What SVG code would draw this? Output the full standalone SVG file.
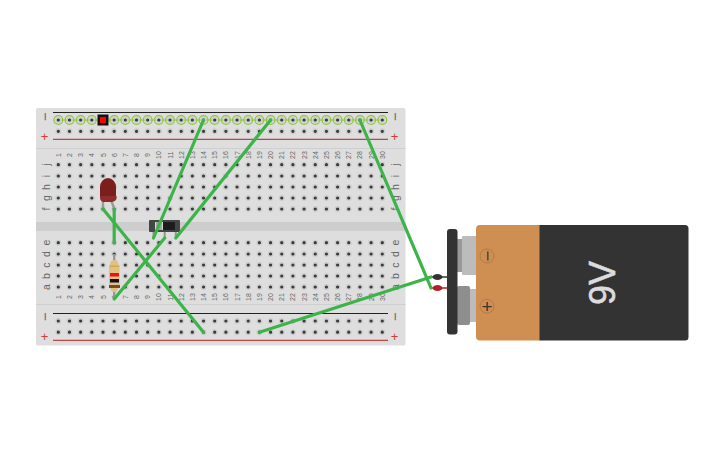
<svg xmlns="http://www.w3.org/2000/svg" width="725" height="453" viewBox="0 0 725 453">
<style>
text{font-family:"Liberation Sans",Arial,sans-serif}
.halo{stroke:#cdcdcd;stroke-width:6;stroke-linecap:round;stroke-dasharray:0 11.172;fill:none}
.hole{stroke:#3a3a3a;stroke-width:3.2;stroke-linecap:round;stroke-dasharray:0 11.172;fill:none}
.num{font-size:7px;fill:#666;text-anchor:middle;dominant-baseline:central}
.let{font-size:10.5px;fill:#666;text-anchor:middle;dominant-baseline:central}
.minus{font-size:15px;fill:#666;text-anchor:middle;dominant-baseline:central}
.plus{font-size:13px;fill:#d43a3a;text-anchor:middle;dominant-baseline:central}
.ring{fill:none;stroke:#8cc63f;stroke-width:1.2}
.wire{stroke:#3cb44a;stroke-width:3.2;stroke-linecap:round;fill:none}
.pin{stroke:#8a9a8a;stroke-width:2;fill:none}
</style>
<defs>
<g id="r"><path class="halo" d="M58.3 0H383"/><path class="hole" d="M58.3 0H383"/></g>
<g id="rn"><text class="num" y="58.3">1</text><text class="num" y="69.5">2</text><text class="num" y="80.6">3</text><text class="num" y="91.8">4</text><text class="num" y="103">5</text><text class="num" y="114.2">6</text><text class="num" y="125.3">7</text><text class="num" y="136.5">8</text><text class="num" y="147.7">9</text><text class="num" y="158.8">10</text><text class="num" y="170">11</text><text class="num" y="181.2">12</text><text class="num" y="192.4">13</text><text class="num" y="203.5">14</text><text class="num" y="214.7">15</text><text class="num" y="225.9">16</text><text class="num" y="237">17</text><text class="num" y="248.2">18</text><text class="num" y="259.4">19</text><text class="num" y="270.6">20</text><text class="num" y="281.7">21</text><text class="num" y="292.9">22</text><text class="num" y="304.1">23</text><text class="num" y="315.3">24</text><text class="num" y="326.4">25</text><text class="num" y="337.6">26</text><text class="num" y="348.8">27</text><text class="num" y="359.9">28</text><text class="num" y="371.1">29</text><text class="num" y="382.3">30</text></g>
<g id="ring"><circle class="ring" r="4.4"/></g>
</defs>
<g id="breadboard">
<rect x="36" y="108" width="369.5" height="237.5" rx="2" fill="#dedede"/>
<rect x="36" y="148" width="369.5" height="1" fill="#cfcfcf"/>
<rect x="36" y="304" width="369.5" height="1" fill="#cfcfcf"/>
<rect x="36" y="222" width="369.5" height="9" fill="#cdcdcd"/>
<path d="M53 112.5H388M53 313.5H388" stroke="#222" stroke-width="1"/>
<path d="M53 139.3H388M53 340.3H388" stroke="#b32020" stroke-width="1"/>
<path d="M58.3 120H382.3" stroke="#8cc63f" stroke-width="1.2"/>
<g id="rail-rings"><use href="#ring" x="58.3" y="120"/><use href="#ring" x="69.5" y="120"/><use href="#ring" x="80.6" y="120"/><use href="#ring" x="91.8" y="120"/><use href="#ring" x="114.2" y="120"/><use href="#ring" x="125.3" y="120"/><use href="#ring" x="136.5" y="120"/><use href="#ring" x="147.7" y="120"/><use href="#ring" x="158.8" y="120"/><use href="#ring" x="170" y="120"/><use href="#ring" x="181.2" y="120"/><use href="#ring" x="192.4" y="120"/><use href="#ring" x="203.5" y="120"/><use href="#ring" x="214.7" y="120"/><use href="#ring" x="225.9" y="120"/><use href="#ring" x="237" y="120"/><use href="#ring" x="248.2" y="120"/><use href="#ring" x="259.4" y="120"/><use href="#ring" x="270.6" y="120"/><use href="#ring" x="281.7" y="120"/><use href="#ring" x="292.9" y="120"/><use href="#ring" x="304.1" y="120"/><use href="#ring" x="315.3" y="120"/><use href="#ring" x="326.4" y="120"/><use href="#ring" x="337.6" y="120"/><use href="#ring" x="348.8" y="120"/><use href="#ring" x="359.9" y="120"/><use href="#ring" x="371.1" y="120"/><use href="#ring" x="382.3" y="120"/></g>
<use href="#r" y="120"/><use href="#r" y="131.3"/>
<use href="#r" y="164.7"/><use href="#r" y="176"/><use href="#r" y="187"/><use href="#r" y="198"/><use href="#r" y="209"/>
<use href="#r" y="242.7"/><use href="#r" y="254"/><use href="#r" y="265"/><use href="#r" y="276"/><use href="#r" y="287"/>
<use href="#r" y="321"/><use href="#r" y="332.2"/>
<rect x="97.5" y="114.5" width="11" height="11" fill="#111"/><rect x="100" y="117" width="6" height="6" fill="#f00"/>
<g transform="rotate(-90)">
<use href="#rn" x="-155"/><use href="#rn" x="-297"/>
<g transform="translate(0,46)"><text class="let" x="-164.7">j</text><text class="let" x="-176">i</text><text class="let" x="-187">h</text><text class="let" x="-198">g</text><text class="let" x="-209">f</text><text class="let" x="-242.7">e</text><text class="let" x="-254">d</text><text class="let" x="-265">c</text><text class="let" x="-276">b</text><text class="let" x="-287">a</text></g>
<g transform="translate(0,395)"><text class="let" x="-164.7">j</text><text class="let" x="-176">i</text><text class="let" x="-187">h</text><text class="let" x="-198">g</text><text class="let" x="-209">f</text><text class="let" x="-242.7">e</text><text class="let" x="-254">d</text><text class="let" x="-265">c</text><text class="let" x="-276">b</text><text class="let" x="-287">a</text></g>
<text class="minus" x="-116.500" y="44.500">−</text><text class="minus" x="-116.500" y="394.500">−</text><text class="minus" x="-316.500" y="44.500">−</text><text class="minus" x="-316.500" y="394.500">−</text>
</g>
<text class="plus" x="44.500" y="136">+</text><text class="plus" x="394.500" y="136">+</text><text class="plus" x="44.500" y="336">+</text><text class="plus" x="394.500" y="336">+</text>
</g>
<g id="led">
<path d="M103 200V208M111 200L114 208" stroke="#9a9a9a" stroke-width="2.400" fill="none"/>
<path d="M100 197V187a8 9 0 0 1 16 0V197Z" fill="#7b1e1e"/>
<path d="M100 196H116.500Q117.500 201 112 202H103Q99.500 201 100 196Z" fill="#8c2c2c"/>
</g>
<g id="resistor">
<path d="M114.200 254V299" stroke="#9a9a9a" stroke-width="2.400"/>
<path d="M111 261Q114.200 259 117.500 261L119.500 267V285L117 291Q114.200 293 111.500 291L109 285V267Z" fill="#e2bf85"/>
<rect x="109.500" y="265.500" width="10" height="1.500" fill="#c9b04a"/>
<rect x="110" y="273" width="9" height="3.500" fill="#f01010"/>
<rect x="110" y="279" width="9" height="3.500" fill="#111"/>
<rect x="109" y="285" width="11" height="3" fill="#7a4a1c"/>
</g>
<g id="switch">
<path class="pin" d="M153.500 232V238M164.700 232V238M175.800 232V238"/>
<rect x="149" y="220" width="31" height="12" rx="1" fill="#454545"/>
<rect x="155" y="222" width="20" height="8" fill="#1c1c1c"/>
<rect x="155" y="222" width="8" height="8" fill="#d8d8d8"/>
<path d="M157 222V230M159 222V230M161 222V230" stroke="#555" stroke-width="0.800"/>
</g>
<g id="battery">
<rect x="457" y="239" width="6" height="33" fill="#999"/>
<rect x="462" y="236" width="15" height="39" rx="1" fill="#bcbcbc"/>
<rect x="468" y="289" width="9" height="33" fill="#bcbcbc"/>
<rect x="457" y="286" width="13" height="39" rx="2" fill="#8e8e8e"/>
<path d="M431 277H447" stroke="#333" stroke-width="1.500"/>
<path d="M431 288H447" stroke="#b32020" stroke-width="1.500"/>
<ellipse cx="437.500" cy="277" rx="5" ry="3" fill="#333"/>
<ellipse cx="437.500" cy="288" rx="5" ry="3" fill="#b51f28"/>
<rect x="447" y="229" width="10.500" height="105.500" rx="3" fill="#333"/>
<path d="M480 225H540V340.500H480a4 4 0 0 1-4-4V229a4 4 0 0 1 4-4Z" fill="#cf8f52"/>
<path d="M539.500 225H685a3.500 3.500 0 0 1 3.500 3.500V337a3.500 3.500 0 0 1-3.500 3.500H539.500Z" fill="#333"/>
<circle cx="487" cy="256" r="7" fill="none" stroke="#b47a43" stroke-width="1"/>
<circle cx="487" cy="306.200" r="7" fill="none" stroke="#b47a43" stroke-width="1"/>
<text x="487" y="256" font-size="19" fill="#4a4038" text-anchor="middle" dominant-baseline="central" transform="rotate(-90 487 256)">−</text>
<text x="487" y="306.200" font-size="19" fill="#3a3530" text-anchor="middle" dominant-baseline="central">+</text>
<text x="602.500" y="283" font-size="36" font-weight="400" fill="#dcdcdc" stroke="#dcdcdc" stroke-width="0.600" text-anchor="middle" dominant-baseline="central" transform="rotate(-90 602.500 283)">9V</text>
</g>
<g id="connectors">
<path class="wire" d="M203.500 120L153.500 238"/>
<path class="wire" d="M270.600 120L175.800 238"/>
<path class="wire" d="M359.900 120L431 288"/>
<path class="wire" d="M431 277L259.400 332.200"/>
<path class="wire" d="M103 209L203.500 332.200"/>
<path class="wire" d="M114.200 209V243"/>
<path class="wire" d="M164.700 238L114.200 299"/>
</g>
</svg>
